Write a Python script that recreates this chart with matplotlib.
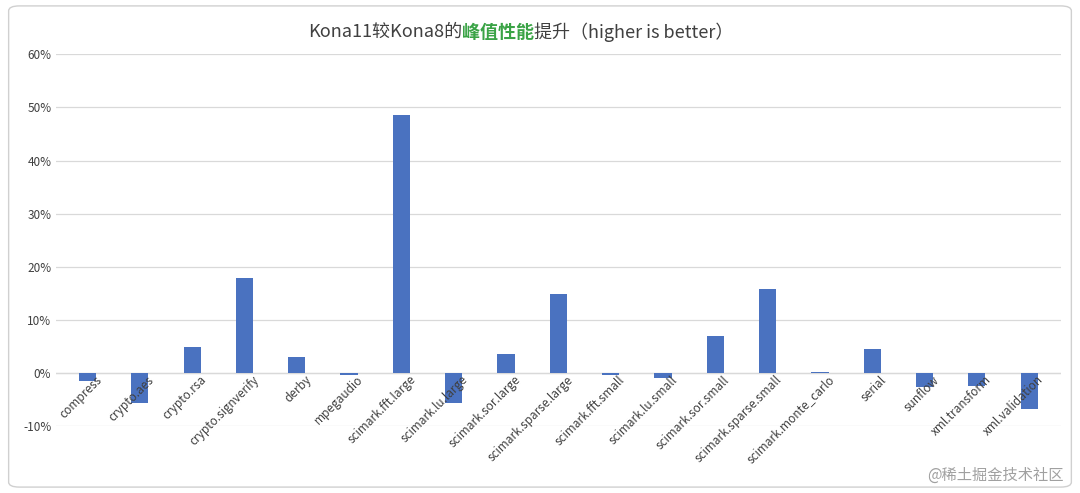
import numpy as np
import matplotlib.pyplot as plt
from matplotlib.patches import FancyBboxPatch

plt.rcParams['font.family'] = ['Noto Sans CJK SC', 'DejaVu Sans']

# benchmark names and peak-performance gain (%)
benchmarks = ['compress', 'crypto.aes', 'crypto.rsa', 'crypto.signverify', 'derby',
              'mpegaudio', 'scimark.fft.large', 'scimark.lu.large', 'scimark.sor.large',
              'scimark.sparse.large', 'scimark.fft.small', 'scimark.lu.small',
              'scimark.sor.small', 'scimark.sparse.small', 'scimark.monte_carlo',
              'serial', 'sunflow', 'xml.transform', 'xml.validation']
gain = [-1.5, -5.5, 5.0, 18.0, 3.0, -0.3, 48.5, -5.5, 3.6, 15.0, -0.3, -0.9,
        7.1, 15.9, 0.3, 4.5, -2.6, -2.4, -6.8]
yticks = [-10, 0, 10, 20, 30, 40, 50, 60]

fig = plt.figure(figsize=(10.8, 4.93), dpi=100)
ax = fig.add_axes([0.052, 0.135, 0.93, 0.755])

# outer rounded frame
fig.patches.append(FancyBboxPatch((0.008, 0.012), 0.984, 0.976, boxstyle='round,pad=0,rounding_size=0.01',
                                  transform=fig.transFigure, fill=False, edgecolor='#d0d0d0', lw=1))

x = np.arange(len(benchmarks))
ax.bar(x, gain, width=0.33, color='#4a72c0', zorder=3)
ax.set_xlim(-0.6, len(benchmarks) - 0.4)
ax.set_ylim(-10, 60)
ax.set_yticks(yticks)
ax.set_yticklabels([f'{v}%' for v in yticks], fontsize=8.5, color='#404040')
ax.grid(axis='y', color='#d9d9d9', lw=0.9, zorder=0)
ax.axhline(0, color='#d9d9d9', lw=0.9, zorder=1)
for s in ax.spines.values():
    s.set_visible(False)
ax.tick_params(length=0)
ax.set_xticks([])

for xi, name in zip(x, benchmarks):
    ax.text(xi + 0.15, 0, name, rotation=45, ha='right', va='top', fontsize=8.5,
            color='#404040', rotation_mode='anchor', zorder=4)

# title in three pieces, middle one green
t1 = fig.text(0.285, 0.935, 'Kona11较Kona8的', fontsize=13, color='#404040', va='center')
t2 = ax.annotate('峰值性能', xycoords=t1, xy=(1, 0.5), va='center', fontsize=13,
                 color='#3aa346', fontweight='bold')
ax.annotate('提升（higher is better）', xycoords=t2, xy=(1, 0.5), va='center',
            fontsize=13, color='#404040')

fig.text(0.985, 0.035, '@稀土掘金技术社区', ha='right', va='center', fontsize=11, color='#a0a0a0')

fig.savefig('out.png', dpi=100)
